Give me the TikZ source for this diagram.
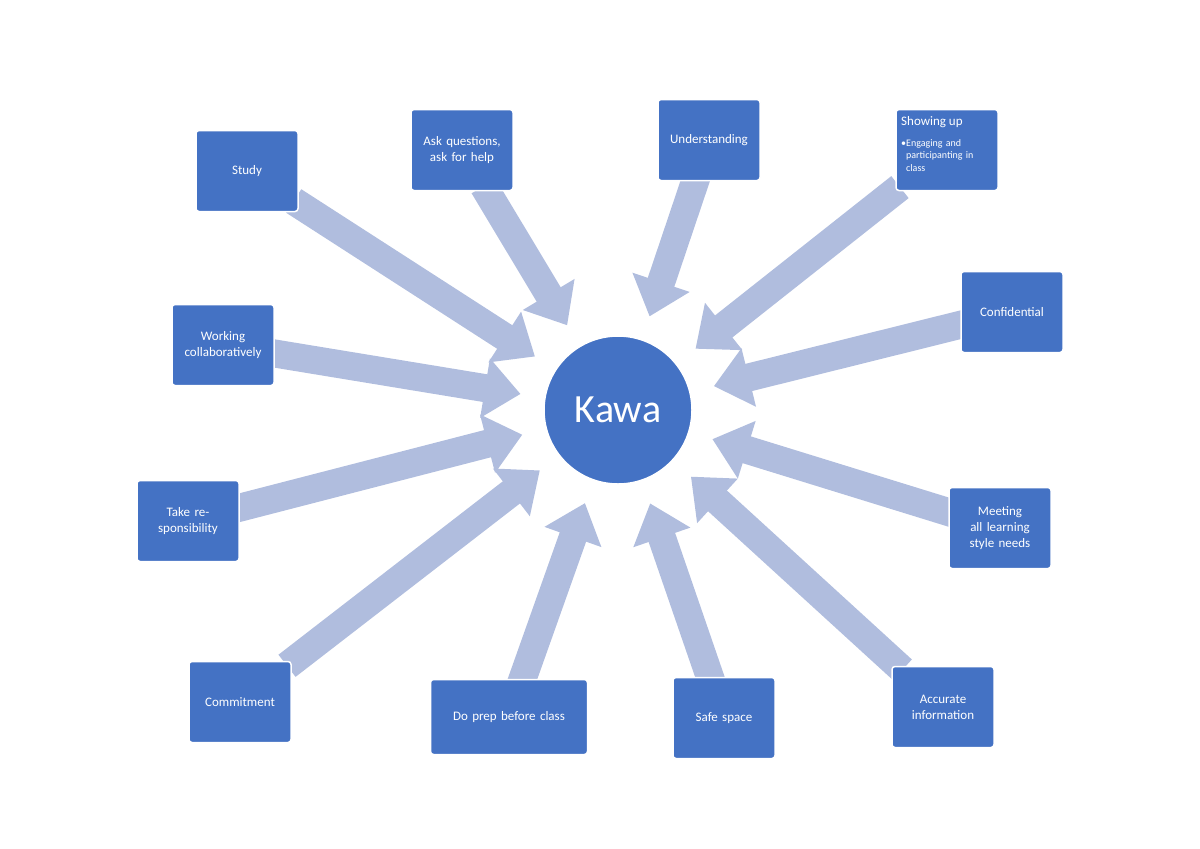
\documentclass[tikz,border=0pt]{standalone}
\usepackage{fontspec}
\setmainfont{Carlito}
\usetikzlibrary{arrows.meta,backgrounds}
\definecolor{boxblue}{HTML}{4472C4}
\definecolor{arrblue}{HTML}{B0BDDE}
\tikzset{
  box/.style={draw=white,line width=1.5pt,fill=boxblue,text=white,rounded corners=3pt,
    minimum width=102pt,minimum height=81pt,text width=94pt,align=center,inner sep=2pt,font=\fontsize{13pt}{16pt}\selectfont},
  bigarrow/.style={arrblue,line width=28pt,-{Triangle[length=36pt,width=58pt]},shorten >=24pt,shorten <=-6pt}
}
\begin{document}
\begin{tikzpicture}[x=1pt,y=-1pt]
\useasboundingbox (0,0) rectangle (1200,849);
\node[circle,draw=white,line width=1.5pt,fill=boxblue,text=white,minimum size=148pt,font=\fontsize{40pt}{44pt}\selectfont] (kawa) at (618,410) {Kawa};
\node[box] (study) at (247,171) {Study};
\node[box] (ask) at (462,150) {Ask questions, ask for help};
\node[box] (und) at (709,140) {Understanding};
\node[box,text width=96pt,align=left] (show) at (947,150) {};
\node[anchor=north west,text=white,inner sep=0pt,align=left,font=\fontsize{13pt}{16pt}\selectfont] (showt) at (901,116) {Showing up};
\node[anchor=north west,text=white,inner sep=0pt,align=left,text width=92pt,font=\fontsize{10pt}{12.5pt}\selectfont] (showb) at (901,139) {\textbullet Engaging and\\\hspace*{5pt}participanting in\\\hspace*{5pt}class};
\node[box] (conf) at (1012,312) {Confidential};
\node[box] (work) at (223,345) {Working collaboratively};
\node[box] (take) at (188,521) {Take responsibility};
\node[box] (meet) at (1000,528) {Meeting all learning style needs};
\node[box] (comm) at (240,702) {Commitment};
\node[box,minimum width=157pt,minimum height=75pt,text width=150pt] (prep) at (509,717) {Do prep before class};
\node[box] (safe) at (724,718) {Safe space};
\node[box] (acc) at (943,707) {Accurate information};
\begin{scope}[on background layer]
\foreach \n in {study,ask,und,show,conf,work,take,meet,comm,prep,safe,acc}
  \draw[bigarrow] (\n) -- (kawa);
\end{scope}
\end{tikzpicture}
\end{document}
